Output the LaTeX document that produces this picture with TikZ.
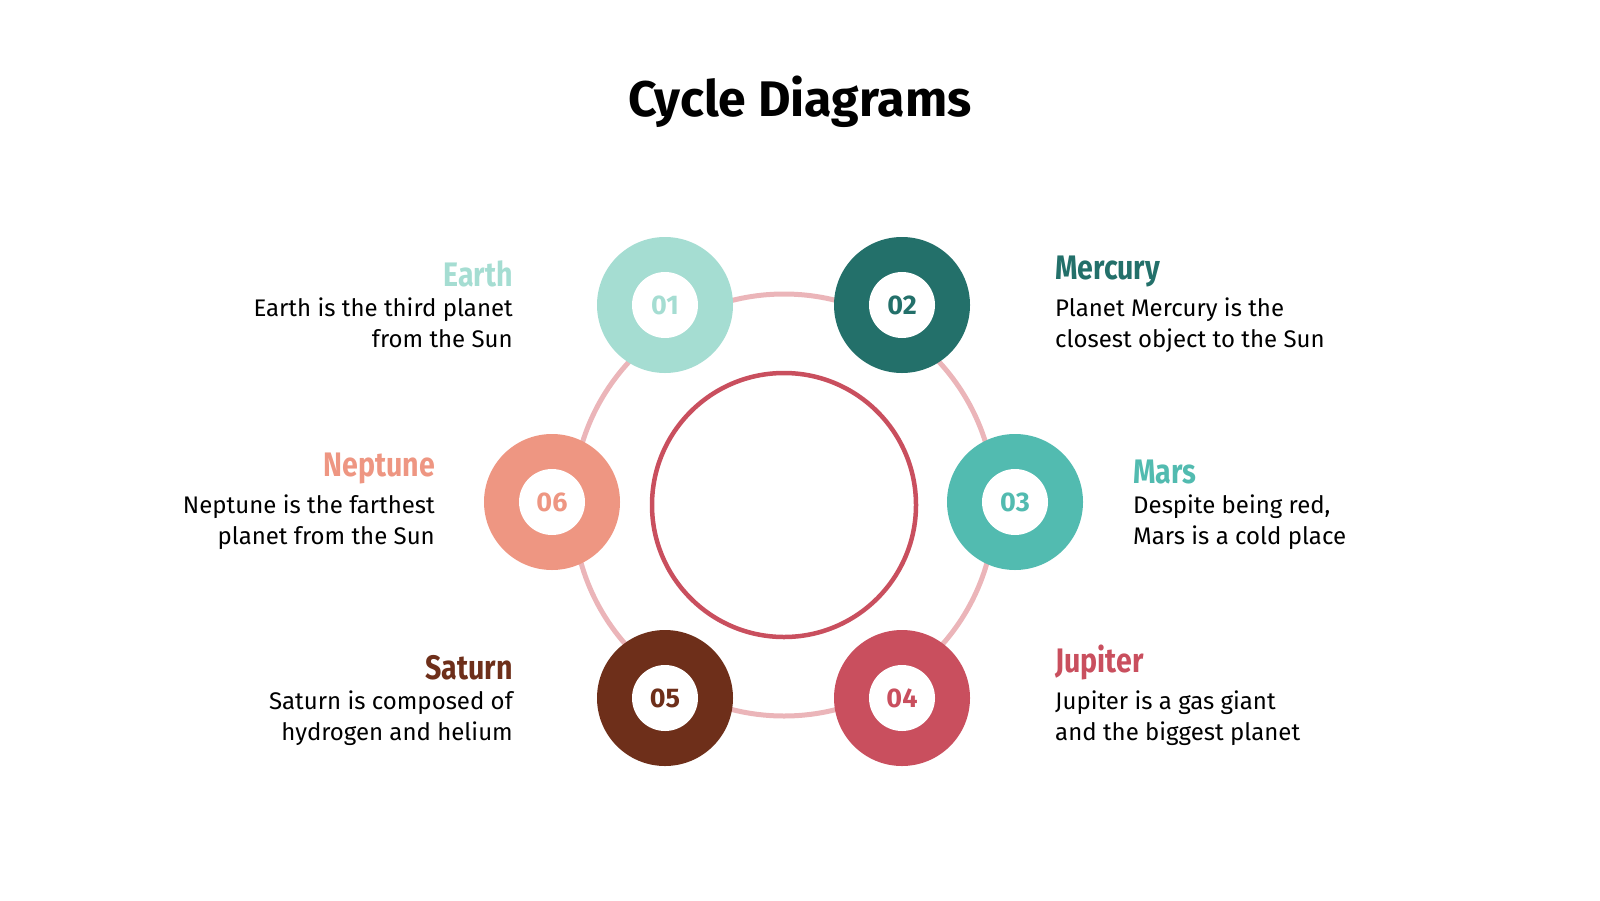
\documentclass[tikz,border=0pt]{standalone}
\usepackage{fontspec}
\setmainfont{Fira Sans}
\newfontfamily\headf{Fira Sans}[FakeStretch=0.84,UprightFont=* Bold]
\newfontfamily\boldf{Fira Sans}[UprightFont=* Bold]
\definecolor{cEarth}{HTML}{A5DDD2}
\definecolor{cMerc}{HTML}{23706A}
\definecolor{cMars}{HTML}{52BBB0}
\definecolor{cJup}{HTML}{C94F5E}
\definecolor{cSat}{HTML}{6E2F1A}
\definecolor{cNep}{HTML}{EE9682}
\definecolor{cRing}{HTML}{EBB5B9}
\tikzset{
 planet/.style={circle,fill=#1,minimum size=136pt,inner sep=0pt},
 num/.style={circle,fill=white,minimum size=66pt,inner sep=0pt,text=#1,font=\boldf\fontsize{27}{27}\selectfont},
 head/.style={font=\headf\fontsize{34}{36}\selectfont,text=#1,inner sep=0pt},
 body/.style={font=\fontsize{24}{31}\selectfont,inner sep=0pt},
}
\begin{document}
\begin{tikzpicture}[x=1pt,y=-1pt]
\useasboundingbox (0,0) rectangle (1600,900);
\node[font=\boldf\fontsize{50}{50}\selectfont] (title) at (800,102) {Cycle Diagrams};
\draw[cRing,line width=5pt] (784,505) circle (211);
\draw[cJup,line width=4.5pt] (784,505) circle (132);
\foreach \nm/\xx/\yy/\cl/\tx in {a/665/305/cEarth/01,b/902/305/cMerc/02,c/1015/502/cMars/03,d/902/698/cJup/04,e/665/698/cSat/05,f/552/502/cNep/06}{
 \node[planet=\cl] (p\nm) at (\xx,\yy) {};
 \node[num=\cl] (n\nm) at (p\nm) {\tx};
}
\node[head=cEarth,anchor=south east] (h1) at (513,287) {Earth};
\node[body,anchor=north east,align=right] (b1) at (513,298) {Earth is the third planet\\from the Sun};
\node[head=cNep,anchor=south east] (h6) at (435,484) {Neptune};
\node[body,anchor=north east,align=right] (b6) at (435,495) {Neptune is the farthest\\planet from the Sun};
\node[head=cSat,anchor=south east] (h5) at (513,680) {Saturn};
\node[body,anchor=north east,align=right] (b5) at (513,691) {Saturn is composed of\\hydrogen and helium};
\node[head=cMerc,anchor=south west] (h2) at (1055,287) {Mercury};
\node[body,anchor=north west,align=left] (b2) at (1055,298) {Planet Mercury is the\\closest object to the Sun};
\node[head=cMars,anchor=south west] (h3) at (1133,484) {Mars};
\node[body,anchor=north west,align=left] (b3) at (1133,495) {Despite being red,\\Mars is a cold place};
\node[head=cJup,anchor=south west] (h4) at (1055,680) {Jupiter};
\node[body,anchor=north west,align=left] (b4) at (1055,691) {Jupiter is a gas giant\\and the biggest planet};
\end{tikzpicture}
\end{document}
